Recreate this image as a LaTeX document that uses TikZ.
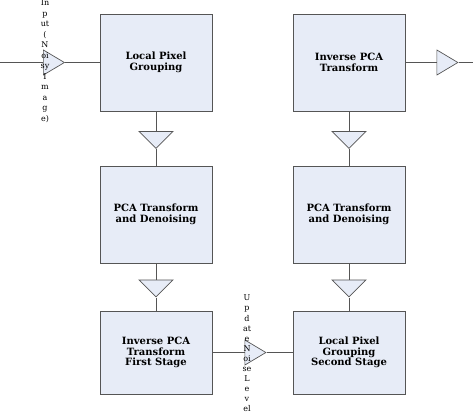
\documentclass[tikz,border=0pt]{standalone}
\usepackage{fontspec}
\setmainfont{DejaVu Serif}
\usepackage{tikz}
\usetikzlibrary{shapes, arrows.meta, positioning}
\definecolor{boxfill}{RGB}{231,236,247}
\definecolor{boxline}{RGB}{85,85,85}
\tikzstyle{block} = [draw=boxline, line width=0.9pt, fill=boxfill, rectangle, minimum width=112pt, minimum height=97pt, align=center, font=\fontsize{10}{11.5}\selectfont\bfseries]
\tikzstyle{shortblock} = [block, minimum height=83pt, font=\fontsize{10}{10.8}\selectfont\bfseries]
\tikzstyle{tri} = [draw=boxline, line width=0.7pt, fill=boxfill, isosceles triangle, isosceles triangle stretches, inner sep=0pt]
\tikzstyle{tridown} = [tri, shape border rotate=270, minimum width=34pt, minimum height=17pt]
\tikzstyle{triright} = [tri, minimum width=25pt, minimum height=21pt]
\tikzstyle{vlabel} = [align=center, inner sep=0pt, font=\fontsize{8}{10.5}\selectfont]

\begin{document}
\begin{tikzpicture}[auto, x=1pt, y=-1pt, node distance=193pt]
    \useasboundingbox (0,0) rectangle (474,413);
    \node [block] (lpg) at (156,62.5) {Local Pixel\\Grouping};
    \node [block, right of=lpg] (ipca) {Inverse PCA\\Transform};
    \node [block, below of=lpg, node distance=152pt] (pcal) {PCA Transform\\and Denoising};
    \node [block, below of=ipca, node distance=152pt] (pcar) {PCA Transform\\and Denoising};
    \node [shortblock, below of=pcal, node distance=138pt] (first) {Inverse PCA\\Transform\\First Stage};
    \node [shortblock, below of=pcar, node distance=138pt] (second) {Local Pixel\\Grouping\\Second Stage};
    % triangles
    \node [triright, left of=lpg, node distance=105.5pt] (tin) {};
    \node [triright, right of=ipca, node distance=95pt] (tout) {};
    \node [triright, right of=first, node distance=96pt] (tupd) {};
    \node [tridown, below of=lpg, node distance=76pt] (tl1) {};
    \node [tridown, below of=pcal, node distance=72.5pt] (tl2) {};
    \node [tridown, below of=ipca, node distance=76pt] (tr1) {};
    \node [tridown, below of=pcar, node distance=72.5pt] (tr2) {};
    \coordinate [left of=tin, node distance=50.5pt] (in);
    \coordinate [right of=tout, node distance=29pt] (out);
    % connectors
    \draw [boxline] (in) -- (tin) -- (lpg);
    \draw [boxline] (lpg) -- (tl1) -- (pcal);
    \draw [boxline] (pcal) -- (tl2) -- (first);
    \draw [boxline] (first) -- (tupd) -- (second);
    \draw [boxline] (second) -- (tr2) -- (pcar);
    \draw [boxline] (pcar) -- (tr1) -- (ipca);
    \draw [boxline] (ipca) -- (tout) -- (out);
    % labels
    \node [vlabel, left of=tin, node distance=5.5pt, yshift=1.5pt] (inlbl) {In\\p\\ut\\(\\N\\oi\\sy\\I\\m\\a\\g\\e)};
    \node [vlabel, left of=tupd, node distance=5pt, yshift=-1pt, font=\fontsize{8}{10.1}\selectfont] (updlbl) {U\\p\\d\\at\\e\\N\\oi\\se\\L\\e\\v\\el};
\end{tikzpicture}
\end{document}
